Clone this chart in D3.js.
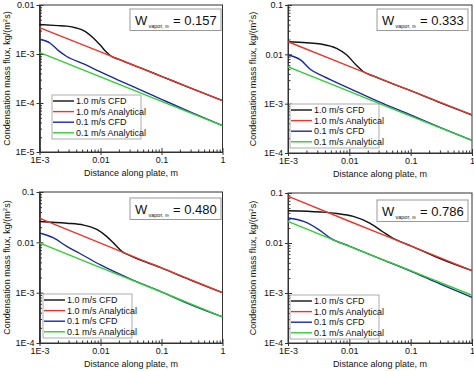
<!DOCTYPE html>
<html>
<head>
<meta charset="utf-8">
<script src="https://cdn.jsdelivr.net/npm/d3@7"></script>
<style>
  body { margin: 0; background: #fff; }
  svg { display: block; font-family: "Liberation Sans", Arial, sans-serif; }
</style>
</head>
<body>
<svg id="chart" width="474" height="371"></svg>
<script>
const seriesNames = ["1.0 m/s CFD", "1.0 m/s Analytical", "0.1 m/s CFD", "0.1 m/s Analytical"];
const seriesColors = ["#111111", "#e8372d", "#1a2a9c", "#33cc33"];
const xTicks = [0.001, 0.01, 0.1, 1];
const xTickLabels = ["1E-3", "0.01", "0.1", "1"];
const wValues = ["0.157", "0.333", "0.480", "0.786"];
const xAnalytical = [0.001, 0.01, 0.1, 1];

// W = 0.157
const xCfd10A = [0.001, 0.002, 0.0028, 0.004, 0.0053, 0.0077, 0.0099, 0.0127, 0.015, 0.02, 0.05, 0.1, 0.3, 1];
const yCfd10A = [4.0e-3, 3.8e-3, 3.7e-3, 3.4e-3, 3.0e-3, 2.1e-3, 1.52e-3, 1.07e-3, 9.0e-4, 7.75e-4, 4.95e-4, 3.5e-4, 2.02e-4, 1.12e-4];
const yAna10A = [3.45e-3, 1.1e-3, 3.5e-4, 1.12e-4];
const xCfd01A = [0.001, 0.0015, 0.002, 0.0028, 0.0053, 0.01, 0.02, 0.05, 0.1, 0.3, 1];
const yCfd01A = [2.0e-3, 1.66e-3, 1.2e-3, 8.9e-4, 6.3e-4, 4.3e-4, 2.9e-4, 1.75e-4, 1.19e-4, 6.5e-5, 3.45e-5];
const yAna01A = [1.08e-3, 3.4e-4, 1.08e-4, 3.45e-5];

// W = 0.333
const xCfd10B = [0.001, 0.002, 0.0034, 0.0062, 0.0091, 0.013, 0.0168, 0.025, 0.05, 0.1, 0.3, 1];
const yCfd10B = [0.018, 0.0172, 0.0162, 0.0132, 0.0097, 0.006, 0.0045, 3.6e-3, 2.55e-3, 1.83e-3, 1.05e-3, 5.9e-4];
const yAna10B = [0.018, 5.7e-3, 1.83e-3, 5.9e-4];
const xCfd01B = [0.001, 0.0016, 0.0023, 0.0038, 0.01, 0.03, 0.1, 0.3, 1];
const yCfd01B = [9.7e-3, 7.7e-3, 5.0e-3, 3.56e-3, 2.05e-3, 1.1e-3, 5.9e-4, 3.3e-4, 1.8e-4];
const yAna01B = [5.6e-3, 1.77e-3, 5.6e-4, 1.8e-4];

// W = 0.480
const xCfd10C = [0.001, 0.0028, 0.0053, 0.0087, 0.0127, 0.0174, 0.0224, 0.03, 0.1, 0.3, 1];
const yCfd10C = [0.026, 0.024, 0.022, 0.018, 0.013, 0.009, 0.0066, 5.5e-3, 3.1e-3, 1.78e-3, 1.0e-3];
const yAna10C = [0.030, 9.6e-3, 3.1e-3, 1.0e-3];
const xCfd01C = [0.001, 0.0017, 0.0028, 0.0046, 0.01, 0.03, 0.1, 0.3, 1];
const yCfd01C = [0.0153, 0.0122, 8.3e-3, 6.0e-3, 3.55e-3, 1.9e-3, 1.04e-3, 5.8e-4, 3.3e-4];
const yAna01C = [9.7e-3, 3.15e-3, 1.03e-3, 3.3e-4];

// W = 0.786
const xCfd10D = [0.001, 0.0034, 0.0062, 0.0116, 0.0215, 0.035, 0.051, 0.074, 0.1, 0.3, 1];
const yCfd10D = [0.0443, 0.0417, 0.039, 0.034, 0.025, 0.0168, 0.0125, 0.0102, 8.77e-3, 4.9e-3, 2.8e-3];
const yAna10D = [0.0858, 0.0272, 8.77e-3, 2.8e-3];
const xCfd01D = [0.001, 0.0018, 0.0034, 0.0049, 0.01, 0.03, 0.1, 0.3, 1];
const yCfd01D = [0.0316, 0.027, 0.0175, 0.0125, 8.7e-3, 5.0e-3, 2.75e-3, 1.52e-3, 8.2e-4];
const yAna01D = [0.0271, 8.6e-3, 2.8e-3, 9.0e-4];

const zip = (xs, ys) => xs.map((x, i) => [x, ys[i]]);

const panels = [
  { left: 39.5, right: 222.5, top: 5, bottom: 152, yDomain: [1e-5, 1e-2], titleX: 7, w: wValues[0],
    box: [130, 9], legend: [52, 95],
    series: [zip(xCfd10A, yCfd10A), zip(xAnalytical, yAna10A), zip(xCfd01A, yCfd01A), zip(xAnalytical, yAna01A)] },
  { left: 288, right: 472, top: 5, bottom: 153, yDomain: [1e-4, 1e-1], titleX: 253, w: wValues[1],
    box: [377, 9], legend: [290, 104],
    series: [zip(xCfd10B, yCfd10B), zip(xAnalytical, yAna10B), zip(xCfd01B, yCfd01B), zip(xAnalytical, yAna01B)] },
  { left: 39.5, right: 222.5, top: 192, bottom: 343, yDomain: [1e-4, 1e-1], titleX: 7, w: wValues[2],
    box: [130, 198], legend: [43, 294],
    series: [zip(xCfd10C, yCfd10C), zip(xAnalytical, yAna10C), zip(xCfd01C, yCfd01C), zip(xAnalytical, yAna01C)] },
  { left: 288, right: 472, top: 193, bottom: 343, yDomain: [1e-4, 1e-1], titleX: 253, w: wValues[3],
    box: [377, 200], legend: [290, 295],
    series: [zip(xCfd10D, yCfd10D), zip(xAnalytical, yAna10D), zip(xCfd01D, yCfd01D), zip(xAnalytical, yAna01D)] },
];

const svg = d3.select("#chart");

function minorTicks(domain) {
  const out = [];
  for (let d = domain[0]; d < domain[1] * 0.999; d *= 10) {
    for (let k = 2; k <= 9; k++) out.push(k * d);
  }
  return out;
}

function yLabel(v) {
  return v >= 0.01 ? String(+v.toPrecision(1)) : "1E" + Math.round(Math.log10(v));
}

function styleAxis(g) {
  g.attr("font-size", 9).attr("font-family", null);
  g.select(".domain").attr("stroke", "#333");
  g.selectAll(".tick line").attr("stroke", "#333");
  g.selectAll(".tick text").attr("fill", "#111");
}

panels.forEach((p) => {
  const x = d3.scaleLog().domain([1e-3, 1]).range([p.left, p.right]);
  const y = d3.scaleLog().domain(p.yDomain).range([p.bottom, p.top]);
  const yMajors = [];
  for (let d = p.yDomain[0]; d <= p.yDomain[1] * 1.001; d *= 10) yMajors.push(d);
  const g = svg.append("g");

  // bottom axis: crossing majors + inward minors
  g.append("g").attr("transform", `translate(0,${p.bottom})`)
    .call(d3.axisBottom(x).tickValues(xTicks).tickFormat((d, i) => xTickLabels[i])
      .tickSizeInner(3).tickSizeOuter(0).tickPadding(2))
    .call(styleAxis);
  g.append("g").attr("transform", `translate(0,${p.bottom})`)
    .call(d3.axisBottom(x).tickValues(xTicks).tickFormat("").tickSizeInner(-4).tickSizeOuter(0))
    .call(styleAxis);
  g.append("g").attr("transform", `translate(0,${p.bottom})`)
    .call(d3.axisBottom(x).tickValues(minorTicks([1e-3, 1])).tickFormat("").tickSizeInner(-2.5).tickSizeOuter(0))
    .call(styleAxis);

  // left axis
  g.append("g").attr("transform", `translate(${p.left},0)`)
    .call(d3.axisLeft(y).tickValues(yMajors).tickFormat(yLabel)
      .tickSizeInner(3).tickSizeOuter(0).tickPadding(2))
    .call(styleAxis);
  g.append("g").attr("transform", `translate(${p.left},0)`)
    .call(d3.axisLeft(y).tickValues(yMajors).tickFormat("").tickSizeInner(-4).tickSizeOuter(0))
    .call(styleAxis);
  g.append("g").attr("transform", `translate(${p.left},0)`)
    .call(d3.axisLeft(y).tickValues(minorTicks(p.yDomain)).tickFormat("").tickSizeInner(-2.5).tickSizeOuter(0))
    .call(styleAxis);

  // frame
  g.append("rect")
    .attr("x", p.left).attr("y", p.top)
    .attr("width", p.right - p.left).attr("height", p.bottom - p.top)
    .attr("fill", "none").attr("stroke", "#333").attr("stroke-width", 1);

  // curves
  const line = d3.line().x((d) => x(d[0])).y((d) => y(d[1])).curve(d3.curveMonotoneX);
  g.append("g").selectAll("path")
    .data(p.series)
    .join("path")
    .attr("d", line)
    .attr("fill", "none")
    .attr("stroke", (d, i) => seriesColors[i])
    .attr("stroke-width", 1.4);

  // axis titles
  g.append("text")
    .attr("x", (p.left + p.right) / 2).attr("y", p.bottom + 24)
    .attr("text-anchor", "middle").attr("font-size", 9).attr("fill", "#111")
    .text("Distance along plate, m");
  const yt = g.append("text")
    .attr("transform", `translate(${p.titleX},${(p.top + p.bottom) / 2}) rotate(-90)`)
    .attr("text-anchor", "middle").attr("font-size", 9).attr("fill", "#111")
    .attr("dy", "0.35em");
  yt.append("tspan").text("Condensation mass flux, kg/(m");
  yt.append("tspan").attr("dy", -3).attr("font-size", 6).text("2");
  yt.append("tspan").attr("dy", 3).text("s)");

  // W box
  const bx = p.box[0], by = p.box[1];
  g.append("rect").attr("x", bx).attr("y", by).attr("width", 91).attr("height", 21.5)
    .attr("fill", "#fff").attr("stroke", "#999").attr("stroke-width", 1);
  g.append("text").attr("x", bx + 5).attr("y", by + 15.5).attr("font-size", 13).attr("fill", "#111").text("W");
  g.append("text").attr("x", bx + 18.5).attr("y", by + 18.5).attr("font-size", 5.5).attr("fill", "#111").text("vapor, \u221e");
  g.append("text").attr("x", bx + 43).attr("y", by + 15.5).attr("font-size", 13).attr("fill", "#111").text("= " + p.w);

  // legend
  const lx = p.legend[0], ly = p.legend[1];
  g.append("rect").attr("x", lx).attr("y", ly).attr("width", 89).attr("height", 44)
    .attr("fill", "#fff").attr("stroke", "#999").attr("stroke-width", 0.8);
  const rows = g.append("g").selectAll("g")
    .data(seriesNames)
    .join("g")
    .attr("transform", (d, i) => `translate(${lx},${ly + 6 + i * 10.6})`);
  rows.append("line").attr("x1", 1).attr("x2", 22).attr("y1", 0).attr("y2", 0)
    .attr("stroke", (d, i) => seriesColors[i]).attr("stroke-width", 1.4);
  rows.append("text").attr("x", 24).attr("dy", "0.35em").attr("font-size", 9).attr("fill", "#111")
    .text((d) => d);
});
</script>
</body>
</html>
